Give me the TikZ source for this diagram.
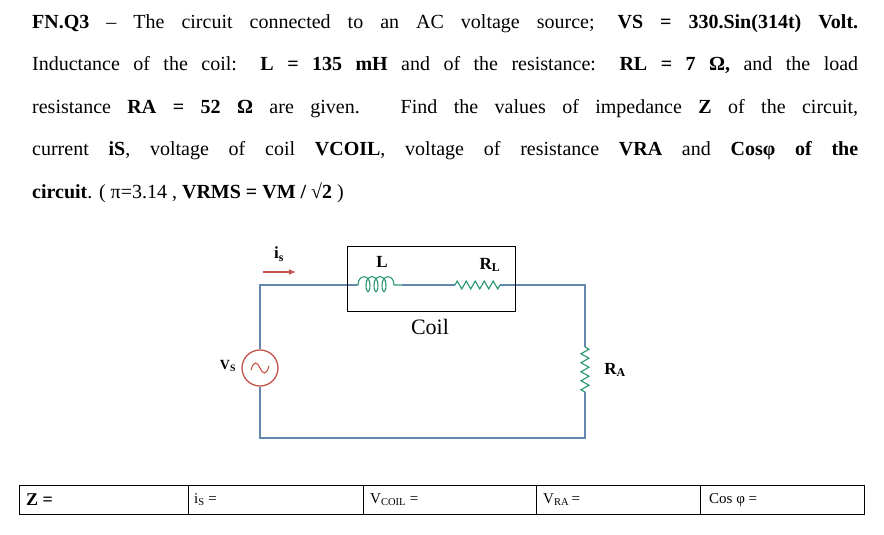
\documentclass[tikz,border=0pt]{standalone}
\usepackage{fontspec}
\setmainfont{Liberation Serif}
\usetikzlibrary{decorations.pathmorphing,arrows.meta}
\definecolor{wire}{RGB}{100,135,175}
\definecolor{comp}{RGB}{40,150,110}
\definecolor{src}{RGB}{195,85,75}
\tikzset{w/.style={wire,line width=1.6pt},
 res/.style={comp,line width=1.1pt,decorate,decoration={zigzag,segment length=9pt,amplitude=4pt}},
 lab/.style={font=\fontsize{17}{17}\selectfont\bfseries,inner sep=0}}
\begin{document}
\begin{tikzpicture}[x=1pt,y=-1pt]
\useasboundingbox (0,0) rectangle (884,535);
\node[anchor=north west,inner sep=0,text width=826pt,align=justify,font=\fontsize{20}{42.5}\selectfont] (txt) at (32,14) {%
\textbf{FN.Q3} -- The circuit connected to an AC voltage source; \textbf{VS = 330.Sin(314t) Volt.}\linebreak
Inductance of the coil: \textbf{L = 135 mH} and of the resistance: \textbf{RL = 7 Ω,} and the load\linebreak
resistance \textbf{RA = 52 Ω} are given. Find the values of impedance \textbf{Z} of the circuit,\linebreak
current \textbf{iS}, voltage of coil \textbf{VCOIL}, voltage of resistance \textbf{VRA} and \textbf{Cosφ of the}\linebreak
\textbf{circuit}. ( π=3.14 , \textbf{VRMS = VM / √2} )\par};
% circuit
\coordinate (tl) at (260,285); \coordinate (tr) at (585,285);
\coordinate (bl) at (260,438); \coordinate (br) at (585,438);
\node[circle,draw=src,line width=1.3pt,minimum size=36pt,inner sep=0] (vs) at (260,368) {};
\draw[src,line width=1.1pt] (251,370) .. controls (254,360) and (257,362) .. (260,368) .. controls (263,374) and (266,376) .. (269,366);
\coordinate (l1) at (357,285); \coordinate (l2) at (402,285);
\coordinate (r1) at (455,285); \coordinate (r2) at (500,285);
\coordinate (a1) at (585,347); \coordinate (a2) at (585,392);
\draw[w] (vs.north) -- (tl) -- (l1);
\draw[w] (l2) -- (r1);
\draw[w] (r2) -- (tr) -- (a1);
\draw[w] (a2) -- (br) -- (bl) -- (vs.south);
\draw[comp,line width=1.1pt] (l1) -- (358,285)
  .. controls ++(0,-11) and ++(0,-11) .. ++(12,0)
  \foreach \i in {1,2,3} {.. controls ++(0,9) and ++(0,9) .. ++(-4,0) .. controls ++(0,-11) and ++(0,-11) .. ++(12,0)} -- (l2);
\draw[res] (r1) -- (r2);
\draw[res] (a1) -- (a2);
\node[draw,line width=0.9pt,minimum width=168pt,minimum height=65pt,anchor=north west,inner sep=0] (box) at (347,246) {};
\draw[src,line width=1.5pt,-{Latex[length=7pt,width=6pt]}] (263,272) coordinate (ia) -- (296,272) coordinate (ib);
\node[lab] (is) at (279,254) {i\textsubscript{s}};
\node[lab] (Ll) at (382,262) {L};
\node[lab] (RLl) at (490,265) {R\textsubscript{L}};
\node[font=\fontsize{22}{22}\selectfont,inner sep=0] (coil) at (430,327) {Coil};
\node[lab,font=\fontsize{14}{14}\selectfont\bfseries] (vsl) at (228,366) {V\textsubscript{S}};
\node[lab] (ral) at (615,370) {R\textsubscript{A}};
% table
\draw[line width=0.9pt] (19,485) rectangle (864,514);
\foreach \x in {188,363,536,700} \draw[line width=0.6pt] (\x,485) -- (\x,514);
\node[anchor=base west,inner sep=0,font=\fontsize{18}{18}\selectfont\bfseries] (t1) at (26,505) {Z =};
\node[anchor=base west,inner sep=0,font=\fontsize{15}{15}\selectfont] (t2) at (194,503) {i\textsubscript{S} =};
\node[anchor=base west,inner sep=0,font=\fontsize{15}{15}\selectfont] (t3) at (370,503) {V\textsubscript{COIL} =};
\node[anchor=base west,inner sep=0,font=\fontsize{15}{15}\selectfont] (t4) at (543,503) {V\textsubscript{RA}\,=};
\node[anchor=base west,inner sep=0,font=\fontsize{15}{15}\selectfont] (t5) at (709,503) {Cos φ =};
\end{tikzpicture}
\end{document}
